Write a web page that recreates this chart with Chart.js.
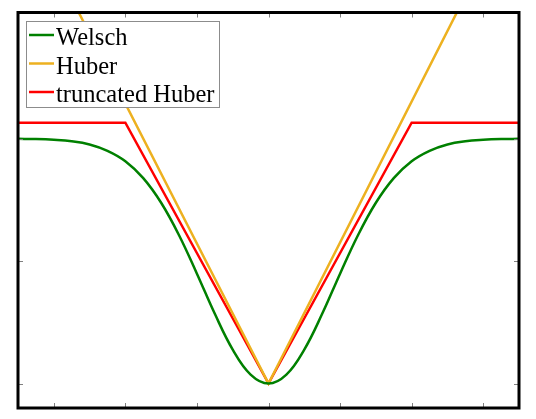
<!DOCTYPE html>
<html>
<head>
<meta charset="utf-8">
<script src="https://cdn.jsdelivr.net/npm/chart.js@4.4.1/dist/chart.umd.min.js"></script>
<style>
    html, body { margin: 0; padding: 0; background: #ffffff; }
    canvas { display: block; }
</style>
</head>
<body>
<canvas id="chart" width="536" height="419"></canvas>
<script>
// values
const welschX = [-3.5, -3.25, -3.0, -2.75, -2.5, -2.25, -2.0, -1.75, -1.5, -1.25, -1.0, -0.75, -0.5, -0.25, 0,
                 0.25, 0.5, 0.75, 1.0, 1.25, 1.5, 1.75, 2.0, 2.25, 2.5, 2.75, 3.0, 3.25, 3.5];
const welschY = [1.998, 1.996, 1.99, 1.978, 1.952, 1.90, 1.815, 1.677, 1.476, 1.211, 0.897, 0.569, 0.277, 0.073, 0,
                 0.073, 0.277, 0.569, 0.897, 1.211, 1.476, 1.677, 1.815, 1.90, 1.952, 1.978, 1.99, 1.996, 1.998];

const huberX = [-3.5, 0, 3.5];
const huberY = [4.0, 0, 4.03];

const truncX = [-3.5, -2, 0, 2, 3.5];
const truncY = [2.13, 2.13, 0, 2.13, 2.13];

const xTicks = [-3, -2, -1, 0, 1, 2, 3];
const yTicks = [0, 1, 2];

const labels = ["Welsch", "Huber", "truncated Huber"];
const colors = ["#008000", "#edb120", "#ff0000"];

function toPoints(xs, ys) {
    return xs.map((x, i) => ({ x: x, y: ys[i] }));
}

const frame = {
    id: "frame",
    afterDraw(chart) {
        const ctx = chart.ctx;
        const a = chart.chartArea;
        const xs = chart.scales.x;
        const ys = chart.scales.y;

        // inward tick marks on all four sides
        ctx.save();
        ctx.strokeStyle = "#808080";
        ctx.lineWidth = 1;
        ctx.beginPath();
        xTicks.forEach(v => {
            const px = Math.round(xs.getPixelForValue(v)) + 0.5;
            ctx.moveTo(px, a.bottom);
            ctx.lineTo(px, a.bottom - 5);
            ctx.moveTo(px, a.top);
            ctx.lineTo(px, a.top + 5);
        });
        yTicks.forEach(v => {
            const py = Math.round(ys.getPixelForValue(v)) + 0.5;
            ctx.moveTo(a.left, py);
            ctx.lineTo(a.left + 5, py);
            ctx.moveTo(a.right, py);
            ctx.lineTo(a.right - 5, py);
        });
        ctx.stroke();

        // axes box
        ctx.strokeStyle = "#000000";
        ctx.lineWidth = 3;
        ctx.strokeRect(a.left, a.top, a.right - a.left, a.bottom - a.top);

        // legend box
        const bx = 26, by = 21, bw = 193, bh = 86;
        ctx.fillStyle = "#ffffff";
        ctx.fillRect(bx, by, bw, bh);
        ctx.strokeStyle = "#8c8c8c";
        ctx.lineWidth = 1;
        ctx.strokeRect(bx + 0.5, by + 0.5, bw, bh);

        ctx.font = "24.5px 'Liberation Serif', 'Times New Roman', serif";
        ctx.textBaseline = "alphabetic";
        ctx.textAlign = "left";
        chart.data.datasets.forEach((ds, i) => {
            const base = 45 + i * 28.5;
            ctx.strokeStyle = ds.borderColor;
            ctx.lineWidth = 2.5;
            ctx.beginPath();
            ctx.moveTo(29, base - 10);
            ctx.lineTo(54, base - 10);
            ctx.stroke();
            ctx.fillStyle = "#000000";
            ctx.fillText(ds.label, 56, base);
        });
        ctx.restore();
    }
};

new Chart(document.getElementById("chart"), {

    type: "line",

    data: {
        datasets: [
            {
                label: labels[0],
                data: toPoints(welschX, welschY),
                borderColor: colors[0],
                borderWidth: 2.5,
                pointRadius: 0,
                tension: 0.4
            },
            {
                label: labels[1],
                data: toPoints(huberX, huberY),
                borderColor: colors[1],
                borderWidth: 2.5,
                pointRadius: 0,
                tension: 0
            },
            {
                label: labels[2],
                data: toPoints(truncX, truncY),
                borderColor: colors[2],
                borderWidth: 2.5,
                pointRadius: 0,
                tension: 0
            }
        ]
    },

    options: {
        responsive: false,
        animation: false,
        devicePixelRatio: 1,
        layout: {
            padding: { left: 18, top: 12.5, right: 17, bottom: 11 }
        },
        plugins: {
            legend: { display: false },
            tooltip: { enabled: false }
        },
        scales: {
            x: {
                type: "linear",
                min: -3.5,
                max: 3.5,
                display: false
            },
            y: {
                type: "linear",
                min: -0.2,
                max: 3.03,
                display: false
            }
        }
    },

    plugins: [frame]
});
</script>
</body>
</html>
